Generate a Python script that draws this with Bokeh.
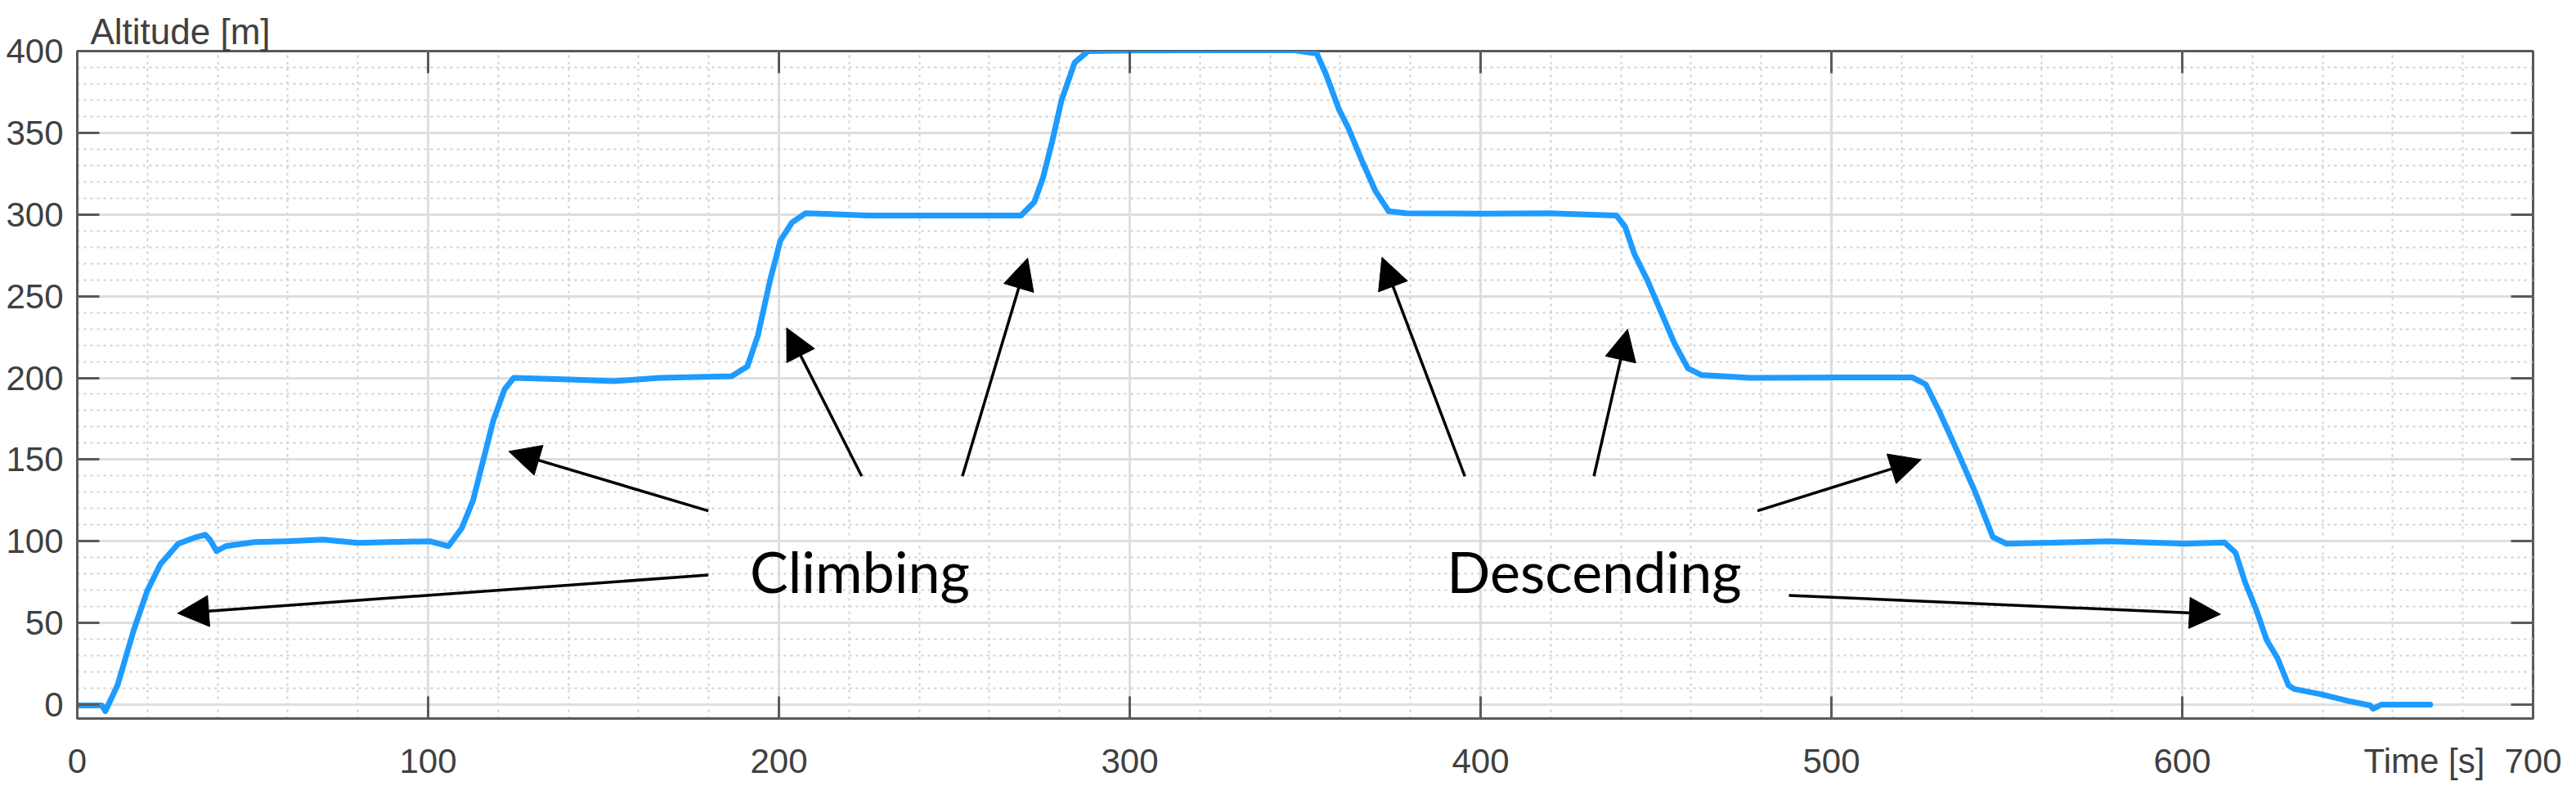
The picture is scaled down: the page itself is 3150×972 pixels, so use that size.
from bokeh.plotting import figure
from bokeh.models import Range1d, LinearAxis, Arrow, NormalHead, Label, FixedTicker
from bokeh.embed import file_html
from bokeh.resources import INLINE

# ---- data ----
time_s = [0, 7, 8, 11.5, 16, 20, 23.7, 28.8, 34, 36.5, 37.8, 39.7, 42.3, 50.6, 60, 70, 80, 89,
          100.6, 105.8, 109.6, 112.8, 116, 118.6, 121.8, 124.4, 140.4, 153, 166, 186.5, 191, 194,
          197.4, 200.4, 203.7, 207.6, 225.5, 251, 269, 272.8, 275.3, 277.9, 280.5, 284.3, 288.1,
          302, 327.8, 347, 353.3, 355.9, 359.7, 362.3, 366, 370, 373.8, 378.9, 400.3, 419.5,
          438.7, 441.2, 443.8, 447.6, 451.5, 455.3, 459.1, 463, 477, 502.6, 523, 526.9, 530.7,
          535.9, 541, 546, 549.9, 579.3, 600.8, 612, 615.2, 617.9, 621, 624.1, 627.2, 630.3,
          631.9, 639.6, 647.4, 653.6, 654.4, 656.7, 670.7]
altitude_m = [-0.5, -0.5, -4, 12, 45, 70, 86, 98.5, 102.6, 104, 101, 94, 97, 99.5, 100, 101, 99, 99.5,
              100, 97, 108, 125, 152, 174, 193, 200, 199, 198, 200, 201, 207, 226,
              259, 284, 295, 300.8, 299.4, 299.4, 299.4, 307.6, 322.8, 344.8, 369.6, 393, 400,
              400.4, 400.5, 400.5, 398.5, 386, 364, 353, 333.8, 314.5, 302, 300.8, 300.5, 300.8,
              299.4, 292.5, 276, 259.5, 240, 221, 205.8, 201.7, 200, 200.3, 200.3, 196, 179.7,
              155, 130, 102.6, 98.5, 100, 98.5, 99.3, 93, 75, 58.6, 39.4, 28.3, 11.8,
              9.6, 6.3, 2.2, -0.5, -2.5, 0, 0]

x_ticks = [0, 100, 200, 300, 400, 500, 600, 700]
y_ticks = [0, 50, 100, 150, 200, 250, 300, 350, 400]
x_title = "Time [s]"
x_title_pos = 669          # MATLAB puts the x label on the tick-label line, left of "700"
y_title = "Altitude [m]"

# annotation arrows: tail (text side) -> tip (curve side)
arrow_x_start = [179.9, 179.9, 223.6, 252.3, 395.5, 432.3, 478.9, 487.9]
arrow_y_start = [79.3, 118.6, 139.8, 139.8, 139.8, 139.8, 118.6, 66.9]
arrow_x_end = [28.6, 123.0, 202.2, 270.9, 371.9, 441.9, 525.6, 610.9]
arrow_y_end = [55.9, 155.0, 230.6, 273.3, 273.8, 229.8, 150.0, 55.3]

note_texts = ["Climbing", "Descending"]
note_x = [191.7, 390.4]
note_y = [82.0, 82.0]

# ---- figure ----
W, H = 3134, 956
p = figure(width=W, height=H, output_backend="svg", toolbar_location=None,
           x_range=Range1d(0, 700), y_range=Range1d(-8.5, 400),
           min_border_left=94, min_border_right=37, min_border_top=62, min_border_bottom=76)
p.background_fill_color = "white"
p.border_fill_color = "white"
p.outline_line_color = "#5a5a5a"
p.outline_line_width = 3

axis_color = "#5a5a5a"
label_color = "#404040"
tick_font = "Liberation Sans"
tick_size = "42px"

xminor = [v for v in range(20, 700, 20) if v % 100 != 0]
yminor = [v for v in range(10, 400, 10) if v % 50 != 0]
xt = FixedTicker(ticks=x_ticks, minor_ticks=xminor)
yt = FixedTicker(ticks=y_ticks, minor_ticks=yminor)


def tick_only(ax, ticker):
    ax.ticker = ticker
    ax.major_tick_in = 27
    ax.major_tick_out = 0
    ax.major_tick_line_color = axis_color
    ax.major_tick_line_width = 3
    ax.minor_tick_in = 0
    ax.minor_tick_out = 0
    ax.major_label_text_color = None
    ax.major_label_text_font_size = "0px"
    ax.major_label_standoff = 0


# bottom: default axis carries the inward ticks and axis line only
xa = p.xaxis[0]
tick_only(xa, xt)
xa.axis_line_color = axis_color
xa.axis_line_width = 3

# bottom labels (tick values + the x title) on their own tick-less axis
xlab = LinearAxis(ticker=FixedTicker(ticks=x_ticks + [x_title_pos]),
                  major_label_overrides={x_title_pos: x_title})
xlab.axis_line_color = None
xlab.major_tick_line_color = None
xlab.major_tick_in = 0
xlab.major_tick_out = 0
xlab.minor_tick_line_color = None
xlab.major_label_text_font = tick_font
xlab.major_label_text_font_size = tick_size
xlab.major_label_text_color = label_color
xlab.major_label_standoff = 28
p.add_layout(xlab, "below")

# left axis with labels
ya = p.yaxis[0]
ya.ticker = yt
ya.axis_line_color = axis_color
ya.axis_line_width = 3
ya.major_tick_in = 27
ya.major_tick_out = 0
ya.major_tick_line_color = axis_color
ya.major_tick_line_width = 3
ya.minor_tick_in = 0
ya.minor_tick_out = 0
ya.major_label_text_font = tick_font
ya.major_label_text_font_size = tick_size
ya.major_label_text_color = label_color
ya.major_label_standoff = 17

# y title above the top-left corner
p.title.text = y_title
p.title.align = "left"
p.title.offset = 16
p.title.standoff = 0
p.title.text_font = tick_font
p.title.text_font_size = "44px"
p.title.text_font_style = "normal"
p.title.text_color = label_color

# mirrored ticks on top and right (box on)
top_ax = LinearAxis()
right_ax = LinearAxis()
tick_only(top_ax, xt)
tick_only(right_ax, yt)
top_ax.axis_line_color = None
right_ax.axis_line_color = None
p.add_layout(top_ax, "above")
p.add_layout(right_ax, "right")

# grids
for g in (p.xgrid, p.ygrid):
    g.grid_line_color = "#dedede"
    g.grid_line_width = 3
    g.minor_grid_line_color = "#cfcfcf"
    g.minor_grid_line_width = 2
    g.minor_grid_line_dash = "3 5"
p.xgrid.ticker = xt
p.ygrid.ticker = yt

# data line
p.line(time_s, altitude_m, line_color="#1E9BFF", line_width=7, line_join="round", line_cap="round")

# arrows
for xs, ys, xe, ye in zip(arrow_x_start, arrow_y_start, arrow_x_end, arrow_y_end):
    p.add_layout(Arrow(x_start=xs, y_start=ys, x_end=xe, y_end=ye,
                       line_color="black", line_width=3.5,
                       end=NormalHead(size=38, fill_color="black", line_color="black", line_width=1)))

# annotation texts
for t, x, y in zip(note_texts, note_x, note_y):
    p.add_layout(Label(x=x, y=y, text=t, text_font="Lato", text_font_size="70px",
                       text_color="black", text_baseline="alphabetic", text_align="left"))

open("out.html", "w").write(file_html(p, INLINE))
